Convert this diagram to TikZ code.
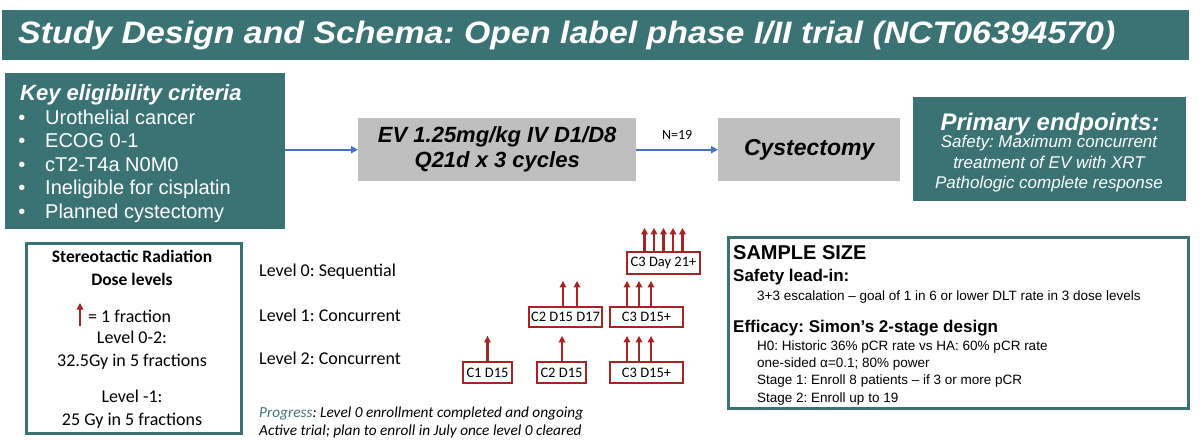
\documentclass[tikz,border=0pt]{standalone}
\usepackage{fontspec}
\usepackage{graphicx}
\setmainfont{Liberation Sans}
\newfontfamily\calib{Carlito}
\usetikzlibrary{arrows.meta}
\definecolor{tealA}{RGB}{59,115,116}
\definecolor{boxgray}{RGB}{191,191,191}
\definecolor{arrblue}{RGB}{68,114,196}
\definecolor{dred}{RGB}{168,36,36}
\definecolor{progc}{RGB}{66,116,122}
\newcommand{\fs}[1]{\fontsize{#1}{#1}\selectfont}
\tikzset{
  tealbox/.style={fill=tealA, draw=none, inner sep=0pt},
  graybox/.style={fill=boxgray, draw=none, inner sep=0pt, align=center},
  framebox/.style={draw=tealA, line width=3pt, fill=white, inner sep=0pt},
  redbox/.style={draw=dred, line width=2.2pt, fill=white, inner sep=0pt, font=\calib\fs{14.5}},
  redarrow/.style={draw=dred, line width=2.2pt, -{Triangle[width=6.5pt,length=6.5pt]}},
  bluearrow/.style={draw=arrblue, line width=2pt, -{Triangle[width=7pt,length=7pt]}},
  txt/.style={inner sep=0pt, anchor=base west},
  ctxt/.style={inner sep=0pt, anchor=base}
}
\begin{document}
\frenchspacing
\begin{tikzpicture}[x=1pt,y=-1pt, every node/.append style={execute at begin node=\frenchspacing}]
\useasboundingbox (0,0) rectangle (1200,447);
% title bar
\node[tealbox, anchor=north west, minimum width=1187pt, minimum height=50pt] (title) at (2,10) {};
\node[txt, text=white] (titletxt) at (18,43) {\resizebox{1097pt}{\height}{\fs{31}\bfseries\itshape\frenchspacing Study Design and Schema: Open label phase I/II trial (NCT06394570)}};

% eligibility
\node[tealbox, anchor=north west, minimum width=280pt, minimum height=156pt] (elig) at (5,73) {};
\node[txt, text=white, font=\fs{22}\bfseries\itshape] (eligh) at (20,100) {Key eligibility criteria};
\foreach \t/\y [count=\i] in {Urothelial cancer/124, ECOG 0-1/147, cT2-T4a N0M0/171, Ineligible for cisplatin/194, Planned cystectomy/218}{
  \node[ctxt, text=white, font=\fs{20}] (b\i) at (22,\y) {\textbullet};
  \node[txt, text=white, font=\fs{20}] (e\i) at (45,\y) {\t};
}

% EV box and cystectomy
\node[graybox, anchor=north west, minimum width=278pt, minimum height=63pt, font=\fontsize{22}{25}\selectfont\bfseries\itshape] (ev) at (358,118) {EV 1.25mg/kg IV D1/D8\\Q21d x 3 cycles};
\node[graybox, anchor=north west, minimum width=182pt, minimum height=63pt, font=\fs{23}\bfseries\itshape] (cyst) at (718,118) {Cystectomy};
\draw[bluearrow] (elig.east |- ev.west) -- (ev.west);
\draw[bluearrow] (ev.east) -- node[above=9pt, font=\calib\fs{14}, inner sep=0pt] (n19) {N=19} (cyst.west);

% primary endpoints
\node[tealbox, anchor=north west, minimum width=273pt, minimum height=104pt] (prim) at (913,97) {};
\node[ctxt, text=white, font=\fs{24}\bfseries\itshape] (primh) at (1050,130) {Primary endpoints:};
\node[inner sep=0pt, text=white, align=center, font=\fontsize{17}{20.5}\selectfont\itshape] (primt) at (1049,164) {Safety: Maximum concurrent\\treatment of EV with XRT\\Pathologic complete response};

% dose levels box
\node[framebox, anchor=north west, minimum width=215pt, minimum height=190pt] (dose) at (25,242) {};
\node[ctxt, font=\calib\fs{17.5}\bfseries] (d1) at (132,262) {Stereotactic Radiation};
\node[ctxt, font=\calib\fs{17.5}\bfseries] (d2) at (132,285) {Dose levels};
\coordinate (fa) at (80,326);
\coordinate (fb) at (80,303);
\draw[redarrow, line width=1.6pt] (fa) -- (fb);
\node[txt, font=\calib\fs{18}] (d3) at (88,322) {= 1 fraction};
\node[ctxt, font=\calib\fs{18}] (d4) at (132,343) {Level 0-2:};
\node[ctxt, font=\calib\fs{18}] (d5) at (132,366) {32.5Gy in 5 fractions};
\node[ctxt, font=\calib\fs{18}] (d6) at (132,402) {Level -1:};
\node[ctxt, font=\calib\fs{18}] (d7) at (132,425) {25 Gy in 5 fractions};

% levels
\node[txt, font=\calib\fs{18}] (l0) at (259,276) {Level 0: Sequential};
\node[txt, font=\calib\fs{18}] (l1) at (259,321) {Level 1: Concurrent};
\node[txt, font=\calib\fs{18}] (l2) at (259,364) {Level 2: Concurrent};

% red boxes
\node[redbox, minimum width=73pt, minimum height=22pt] (r0) at (663.5,263) {C3 Day 21+};
\node[redbox, minimum width=73pt, minimum height=20pt] (r1a) at (565.5,317) {C2 D15 D17};
\node[redbox, minimum width=73pt, minimum height=20pt] (r1b) at (646.5,317) {C3 D15+};
\node[redbox, minimum width=49pt, minimum height=21pt] (r2a) at (487.5,372.5) {C1 D15};
\node[redbox, minimum width=49pt, minimum height=21pt] (r2b) at (561.5,372.5) {C2 D15};
\node[redbox, minimum width=73pt, minimum height=21pt] (r2c) at (646.5,372.5) {C3 D15+};
\foreach \dx in {-19,-9.5,0,9.5,19}{
  \draw[redarrow] ([xshift=\dx pt]r0.north) -- ++(0,-23);
}
\foreach \dx in {-2.5,11.5}{
  \draw[redarrow] ([xshift=\dx pt]r1a.north) -- ++(0,-25);
}
\foreach \dx in {-19.5,-7.5,4.5}{
  \draw[redarrow] ([xshift=\dx pt]r1b.north) -- ++(0,-25);
  \draw[redarrow] ([xshift=\dx pt]r2c.north) -- ++(0,-25);
}
\draw[redarrow] (r2a.north) -- ++(0,-25);
\draw[redarrow] ([xshift=0.5pt]r2b.north) -- ++(0,-25);

% progress
\node[txt, font=\calib\fs{15.3}\itshape] (p1) at (259,417) {\textcolor{progc}{Progress}: Level 0 enrollment completed and ongoing};
\node[txt, font=\calib\fs{15.3}\itshape] (p2) at (259,435) {Active trial; plan to enroll in July once level 0 cleared};

% sample size
\node[framebox, anchor=north west, minimum width=460pt, minimum height=171pt] (ss) at (727,236) {};
\node[txt, font=\fs{20}\bfseries] (s1) at (733,259) {SAMPLE SIZE};
\node[txt, font=\fs{17}\bfseries] (s2) at (733,281) {Safety lead-in:};
\node[txt, font=\fs{13.5}] (s3) at (757,300) {3+3 escalation -- goal of 1 in 6 or lower DLT rate in 3 dose levels};
\node[txt, font=\fs{17}\bfseries] (s4) at (733,332) {Efficacy: Simon’s 2-stage design};
\node[txt, font=\fs{13.5}] (s5) at (757,350) {H0: Historic 36\% pCR rate vs HA: 60\% pCR rate};
\node[txt, font=\fs{13.5}] (s6) at (757,367) {one-sided α=0.1; 80\% power};
\node[txt, font=\fs{13.5}] (s7) at (757,384) {Stage 1: Enroll 8 patients -- if 3 or more pCR};
\node[txt, font=\fs{13.5}] (s8) at (757,402) {Stage 2: Enroll up to 19};
\end{tikzpicture}
\end{document}
